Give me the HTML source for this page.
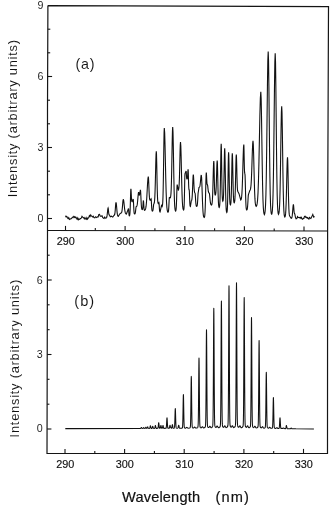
<!DOCTYPE html>
<html><head><meta charset="utf-8"><title>Spectra</title>
<style>html,body{margin:0;padding:0;background:#fff;width:333px;height:505px;overflow:hidden}svg{display:block}</style>
</head><body>
<svg width="333" height="505" viewBox="0 0 333 505">
<rect width="333" height="505" fill="#fff"/>
<g stroke="#141414" stroke-width="1.2" stroke-linecap="butt" fill="none">
<polyline points="47.9,5.6 328.5,6.6 327.6,230.7 327.5,453.5 47.0,453.5 47.5,230.5 47.5,110 47.9,5.6" fill="none"/>
<line x1="47.5" y1="230.5" x2="327.6" y2="231.0"/>
<line x1="47.5" y1="218.5" x2="52.0" y2="218.5" stroke-width="1.10"/>
<line x1="47.5" y1="194.8" x2="50.0" y2="194.8" stroke-width="1.10"/>
<line x1="47.5" y1="171.2" x2="50.0" y2="171.2" stroke-width="1.10"/>
<line x1="47.5" y1="147.5" x2="52.0" y2="147.5" stroke-width="1.10"/>
<line x1="47.5" y1="123.8" x2="50.0" y2="123.8" stroke-width="1.10"/>
<line x1="47.5" y1="100.2" x2="50.0" y2="100.2" stroke-width="1.10"/>
<line x1="47.6" y1="76.5" x2="52.1" y2="76.5" stroke-width="1.10"/>
<line x1="47.7" y1="52.8" x2="50.2" y2="52.8" stroke-width="1.10"/>
<line x1="47.8" y1="29.2" x2="50.3" y2="29.2" stroke-width="1.10"/>
<line x1="47.1" y1="429.0" x2="51.4" y2="429.0" stroke-width="1.10"/>
<line x1="47.1" y1="404.2" x2="49.4" y2="404.2" stroke-width="1.10"/>
<line x1="47.2" y1="379.3" x2="49.5" y2="379.3" stroke-width="1.10"/>
<line x1="47.2" y1="354.5" x2="51.5" y2="354.5" stroke-width="1.10"/>
<line x1="47.3" y1="329.7" x2="49.6" y2="329.7" stroke-width="1.10"/>
<line x1="47.3" y1="304.8" x2="49.6" y2="304.8" stroke-width="1.10"/>
<line x1="47.4" y1="280.0" x2="51.7" y2="280.0" stroke-width="1.10"/>
<line x1="47.4" y1="255.2" x2="49.7" y2="255.2" stroke-width="1.10"/>
<line x1="65.5" y1="230.5" x2="65.5" y2="225.9" stroke-width="1.10"/>
<line x1="65.0" y1="453.5" x2="65.0" y2="448.9" stroke-width="1.10"/>
<line x1="95.3" y1="230.6" x2="95.3" y2="228.1" stroke-width="1.10"/>
<line x1="94.8" y1="453.5" x2="94.8" y2="451.0" stroke-width="1.10"/>
<line x1="125.1" y1="230.6" x2="125.1" y2="226.0" stroke-width="1.10"/>
<line x1="124.6" y1="453.5" x2="124.6" y2="448.9" stroke-width="1.10"/>
<line x1="154.9" y1="230.7" x2="154.9" y2="228.2" stroke-width="1.10"/>
<line x1="154.4" y1="453.5" x2="154.4" y2="451.0" stroke-width="1.10"/>
<line x1="184.8" y1="230.7" x2="184.8" y2="226.1" stroke-width="1.10"/>
<line x1="184.2" y1="453.5" x2="184.2" y2="448.9" stroke-width="1.10"/>
<line x1="214.6" y1="230.8" x2="214.6" y2="228.3" stroke-width="1.10"/>
<line x1="214.1" y1="453.5" x2="214.1" y2="451.0" stroke-width="1.10"/>
<line x1="244.4" y1="230.9" x2="244.4" y2="226.3" stroke-width="1.10"/>
<line x1="243.9" y1="453.5" x2="243.9" y2="448.9" stroke-width="1.10"/>
<line x1="274.2" y1="230.9" x2="274.2" y2="228.4" stroke-width="1.10"/>
<line x1="273.7" y1="453.5" x2="273.7" y2="451.0" stroke-width="1.10"/>
<line x1="304.0" y1="231.0" x2="304.0" y2="226.4" stroke-width="1.10"/>
<line x1="303.5" y1="453.5" x2="303.5" y2="448.9" stroke-width="1.10"/>
</g>
<polyline points="65.40,215.80 66.07,216.87 66.73,216.32 67.40,217.60 68.08,218.51 68.75,217.58 69.42,219.39 70.10,219.00 70.80,219.00 71.50,218.30 72.40,217.71 73.30,216.50 73.95,217.49 74.60,216.70 75.20,217.65 75.80,217.17 76.40,218.10 77.08,219.32 77.75,217.92 78.42,219.66 79.10,219.00 79.80,219.38 80.50,218.50 81.25,218.15 82.00,216.30 82.80,217.36 83.60,217.60 84.27,218.81 84.93,217.63 85.60,219.00 86.22,219.44 86.85,217.73 87.47,219.09 88.10,218.10 88.75,217.64 89.40,215.67 90.05,216.41 90.70,214.90 91.35,216.06 92.00,216.20 92.63,216.99 93.27,216.23 93.90,217.60 94.80,217.78 95.70,216.70 96.60,217.60 97.50,216.90 98.17,216.98 98.83,214.43 99.50,214.40 100.30,216.24 101.10,216.20 102.00,215.80 102.65,217.48 103.30,218.00 104.00,218.41 104.70,217.10 105.35,218.16 106.00,218.00 106.21,217.94 106.42,217.78 106.63,217.44 106.84,216.78 107.05,215.67 107.26,214.05 107.47,212.07 107.68,210.07 107.89,208.56 108.10,208.00 108.23,208.39 108.36,209.45 108.49,210.85 108.62,212.24 108.75,213.37 108.88,214.15 109.01,214.61 109.14,214.85 109.27,214.96 109.40,215.00 110.30,216.70 111.40,216.20 112.80,217.10 114.10,215.30 114.29,215.22 114.48,215.02 114.67,214.57 114.86,213.71 115.05,212.27 115.24,210.17 115.43,207.59 115.62,204.99 115.81,203.03 116.00,202.30 116.24,203.09 116.48,205.22 116.72,208.04 116.96,210.83 117.20,213.11 117.44,214.68 117.68,215.61 117.92,216.09 118.16,216.31 118.40,216.40 119.60,214.00 121.00,213.00 121.23,212.92 121.46,212.70 121.69,212.23 121.92,211.33 122.15,209.80 122.38,207.59 122.61,204.87 122.84,202.14 123.07,200.07 123.30,199.30 123.61,200.13 123.92,202.34 124.23,205.28 124.54,208.20 124.85,210.57 125.16,212.20 125.47,213.18 125.78,213.68 126.09,213.91 126.40,214.00 128.50,208.50 128.59,208.91 128.68,210.01 128.77,211.47 128.86,212.92 128.95,214.10 129.04,214.91 129.13,215.39 129.22,215.64 129.31,215.75 129.40,215.80 129.55,215.63 129.70,215.21 129.85,214.29 130.00,212.50 130.15,209.50 130.30,205.14 130.45,199.79 130.60,194.39 130.75,190.32 130.90,188.80 131.02,189.53 131.14,191.47 131.26,194.05 131.38,196.61 131.50,198.69 131.62,200.12 131.74,200.98 131.86,201.42 131.98,201.62 132.10,201.70 133.20,199.00 133.34,199.85 133.48,202.11 133.62,205.10 133.76,208.08 133.90,210.50 134.04,212.17 134.18,213.16 134.32,213.67 134.46,213.91 134.60,214.00 134.76,213.95 134.92,213.84 135.08,213.59 135.24,213.11 135.40,212.30 135.56,211.12 135.72,209.67 135.88,208.21 136.04,207.11 136.20,206.70 136.44,206.61 136.68,206.39 136.92,205.89 137.16,204.93 137.40,203.32 137.64,200.98 137.88,198.10 138.12,195.20 138.36,193.02 138.60,192.20 139.40,195.50 140.40,189.80 140.58,190.92 140.76,193.90 140.94,197.86 141.12,201.78 141.30,204.98 141.48,207.18 141.66,208.49 141.84,209.17 142.02,209.48 142.20,209.60 142.32,209.54 142.44,209.40 142.56,209.09 142.68,208.49 142.80,207.48 142.92,206.01 143.04,204.20 143.16,202.38 143.28,201.01 143.40,200.50 143.52,201.05 143.64,202.53 143.76,204.49 143.88,206.43 144.00,208.01 144.12,209.10 144.24,209.75 144.36,210.09 144.48,210.24 144.60,210.30 144.97,210.09 145.34,209.57 145.71,208.41 146.08,206.18 146.45,202.44 146.82,197.00 147.19,190.31 147.56,183.58 147.93,178.50 148.30,176.60 148.49,177.94 148.68,181.51 148.87,186.24 149.06,190.94 149.25,194.77 149.44,197.41 149.63,198.97 149.82,199.79 150.01,200.15 150.20,200.30 151.10,199.00 151.23,199.68 151.36,201.51 151.49,203.92 151.62,206.32 151.75,208.28 151.88,209.62 152.01,210.42 152.14,210.84 152.27,211.03 152.40,211.10 152.54,211.06 152.68,210.94 152.82,210.70 152.96,210.22 153.10,209.42 153.24,208.26 153.38,206.83 153.52,205.39 153.66,204.31 153.80,203.90 154.05,203.57 154.30,202.76 154.55,200.96 154.80,197.48 155.05,191.62 155.30,183.14 155.55,172.70 155.80,162.19 156.05,154.26 156.30,151.30 156.50,154.24 156.70,162.11 156.90,172.54 157.10,182.89 157.30,191.32 157.50,197.13 157.70,200.58 157.90,202.37 158.10,203.18 158.30,203.50 158.90,202.60 159.02,203.13 159.14,204.55 159.26,206.42 159.38,208.29 159.50,209.81 159.62,210.85 159.74,211.47 159.86,211.80 159.98,211.94 160.10,212.00 161.50,205.50 162.10,206.50 162.32,206.01 162.54,204.80 162.76,202.11 162.98,196.93 163.20,188.20 163.42,175.55 163.64,160.00 163.86,144.33 164.08,132.52 164.30,128.10 164.67,132.84 165.04,145.51 165.41,162.32 165.78,179.00 166.15,192.57 166.52,201.93 166.89,207.49 167.26,210.37 167.63,211.68 168.00,212.20 168.14,212.11 168.28,211.88 168.42,211.38 168.56,210.40 168.70,208.77 168.84,206.40 168.98,203.48 169.12,200.54 169.26,198.33 169.40,197.50 170.20,197.80 170.45,197.36 170.70,196.26 170.95,193.84 171.20,189.17 171.45,181.30 171.70,169.89 171.95,155.86 172.20,141.74 172.45,131.08 172.70,127.10 172.99,131.83 173.28,144.47 173.57,161.24 173.86,177.88 174.15,191.42 174.44,200.75 174.73,206.30 175.02,209.18 175.31,210.48 175.60,211.00 175.76,210.84 175.92,210.42 176.08,209.52 176.24,207.76 176.40,204.82 176.56,200.54 176.72,195.28 176.88,189.99 177.04,185.99 177.20,184.50 178.30,190.00 178.52,189.70 178.74,188.96 178.96,187.31 179.18,184.14 179.40,178.80 179.62,171.05 179.84,161.53 180.06,151.94 180.28,144.70 180.50,142.00 180.81,145.83 181.12,156.08 181.43,169.67 181.74,183.16 182.05,194.13 182.36,201.70 182.67,206.19 182.98,208.52 183.29,209.58 183.60,210.00 183.74,209.77 183.88,209.21 184.02,207.96 184.16,205.55 184.30,201.51 184.44,195.63 184.58,188.41 184.72,181.14 184.86,175.65 185.00,173.60 186.10,171.00 186.19,171.45 186.28,172.66 186.37,174.25 186.46,175.84 186.55,177.13 186.64,178.02 186.73,178.55 186.82,178.83 186.91,178.95 187.00,179.00 187.11,178.94 187.22,178.79 187.33,178.46 187.44,177.82 187.55,176.74 187.66,175.17 187.77,173.25 187.88,171.31 187.99,169.85 188.10,169.30 188.21,170.47 188.32,173.59 188.43,177.72 188.54,181.83 188.65,185.17 188.76,187.47 188.87,188.84 188.98,189.55 189.09,189.87 189.20,190.00 189.32,190.93 189.44,193.42 189.56,196.71 189.68,199.99 189.80,202.65 189.92,204.49 190.04,205.58 190.16,206.14 190.28,206.40 190.40,206.50 191.30,200.80 191.50,200.64 191.70,200.23 191.90,199.33 192.10,197.59 192.30,194.66 192.50,190.42 192.70,185.20 192.90,179.95 193.10,175.98 193.30,174.50 193.47,175.54 193.64,178.33 193.81,182.03 193.98,185.70 194.15,188.68 194.32,190.74 194.49,191.96 194.66,192.60 194.83,192.89 195.00,193.00 195.17,193.75 195.34,195.77 195.51,198.45 195.68,201.11 195.85,203.27 196.02,204.76 196.19,205.65 196.36,206.11 196.53,206.32 196.70,206.40 196.86,206.31 197.02,206.09 197.18,205.59 197.34,204.64 197.50,203.04 197.66,200.72 197.82,197.86 197.98,194.98 198.14,192.81 198.30,192.00 199.00,187.40 199.23,187.32 199.46,187.13 199.69,186.71 199.92,185.89 200.15,184.51 200.38,182.51 200.61,180.05 200.84,177.57 201.07,175.70 201.30,175.00 201.59,177.39 201.88,183.80 202.17,192.29 202.46,200.72 202.75,207.58 203.04,212.31 203.33,215.12 203.62,216.58 203.91,217.24 204.20,217.50 204.41,217.22 204.62,216.52 204.83,214.98 205.04,212.00 205.25,207.00 205.46,199.74 205.67,190.81 205.88,181.82 206.09,175.04 206.30,172.50 206.41,173.19 206.52,175.03 206.63,177.46 206.74,179.88 206.85,181.85 206.96,183.21 207.07,184.02 207.18,184.43 207.29,184.62 207.40,184.70 207.58,185.17 207.76,186.42 207.94,188.08 208.12,189.72 208.30,191.06 208.48,191.99 208.66,192.54 208.84,192.82 209.02,192.95 209.20,193.00 209.43,193.68 209.66,195.48 209.89,197.88 210.12,200.26 210.35,202.20 210.58,203.53 210.81,204.33 211.04,204.74 211.27,204.93 211.50,205.00 211.73,204.73 211.96,204.04 212.19,202.54 212.42,199.63 212.65,194.73 212.88,187.63 213.11,178.90 213.34,170.11 213.57,163.48 213.80,161.00 213.94,162.92 214.08,168.04 214.22,174.83 214.36,181.58 214.50,187.07 214.64,190.85 214.78,193.10 214.92,194.26 215.06,194.79 215.20,195.00 215.40,194.79 215.60,194.25 215.80,193.07 216.00,190.79 216.20,186.95 216.40,181.38 216.60,174.54 216.80,167.64 217.00,162.44 217.20,160.50 217.40,163.15 217.60,170.23 217.80,179.62 218.00,188.95 218.20,196.53 218.40,201.76 218.60,204.87 218.80,206.48 219.00,207.21 219.20,207.50 219.40,207.11 219.60,206.12 219.80,203.94 220.00,199.73 220.20,192.66 220.40,182.39 220.60,169.78 220.80,157.07 221.00,147.48 221.20,143.90 221.36,147.13 221.52,155.76 221.68,167.21 221.84,178.58 222.00,187.83 222.16,194.20 222.32,197.99 222.48,199.96 222.64,200.85 222.80,201.20 222.99,200.87 223.18,200.05 223.37,198.24 223.56,194.75 223.75,188.88 223.94,180.36 224.13,169.88 224.32,159.33 224.51,151.37 224.70,148.40 224.91,152.01 225.12,161.67 225.33,174.48 225.54,187.20 225.75,197.54 225.96,204.67 226.17,208.91 226.38,211.11 226.59,212.10 226.80,212.50 226.98,212.13 227.16,211.19 227.34,209.14 227.52,205.16 227.70,198.47 227.88,188.78 228.06,176.85 228.24,164.84 228.42,155.79 228.60,152.40 228.78,155.35 228.96,163.25 229.14,173.72 229.32,184.12 229.50,192.57 229.68,198.40 229.86,201.87 230.04,203.66 230.22,204.48 230.40,204.80 230.59,204.48 230.78,203.68 230.97,201.92 231.16,198.51 231.35,192.78 231.54,184.47 231.73,174.25 231.92,163.96 232.11,156.20 232.30,153.30 232.49,156.09 232.68,163.55 232.87,173.44 233.06,183.26 233.25,191.25 233.44,196.76 233.63,200.03 233.82,201.72 234.01,202.49 234.20,202.80 234.41,202.50 234.62,201.75 234.83,200.10 235.04,196.90 235.25,191.53 235.46,183.73 235.67,174.15 235.88,164.50 236.09,157.22 236.30,154.50 236.47,156.60 236.64,162.22 236.81,169.68 236.98,177.08 237.15,183.09 237.32,187.24 237.49,189.71 237.66,190.99 237.83,191.57 238.00,191.80 239.00,193.70 240.70,200.00 241.01,199.66 241.32,198.79 241.63,196.89 241.94,193.22 242.25,187.05 242.56,178.09 242.87,167.08 243.18,155.99 243.49,147.63 243.80,144.50 243.91,146.14 244.02,150.53 244.13,156.34 244.24,162.11 244.35,166.81 244.46,170.05 244.57,171.97 244.68,172.97 244.79,173.42 244.90,173.60 245.08,175.65 245.26,181.14 245.44,188.41 245.62,195.63 245.80,201.51 245.98,205.55 246.16,207.96 246.34,209.21 246.52,209.77 246.70,210.00 246.88,209.90 247.06,209.66 247.24,209.12 247.42,208.08 247.60,206.34 247.78,203.80 247.96,200.69 248.14,197.55 248.32,195.18 248.50,194.30 249.80,190.50 250.12,190.19 250.44,189.42 250.76,187.72 251.08,184.44 251.40,178.92 251.72,170.92 252.04,161.08 252.36,151.17 252.68,143.69 253.00,140.90 253.32,144.59 253.64,154.46 253.96,167.55 254.28,180.54 254.60,191.11 254.92,198.40 255.24,202.73 255.56,204.98 255.88,205.99 256.20,206.40 256.66,205.69 257.12,203.91 257.58,199.99 258.04,192.41 258.50,179.65 258.96,161.16 259.42,138.43 259.88,115.53 260.34,98.26 260.80,91.80 261.16,98.71 261.52,117.21 261.88,141.72 262.24,166.07 262.60,185.86 262.96,199.52 263.32,207.63 263.68,211.83 264.04,213.74 264.40,214.50 264.78,213.49 265.16,210.96 265.54,205.38 265.92,194.59 266.30,176.46 266.68,150.16 267.06,117.82 267.44,85.25 267.82,60.68 268.20,51.50 268.54,60.68 268.88,85.25 269.22,117.82 269.56,150.16 269.90,176.46 270.24,194.59 270.58,205.38 270.92,210.96 271.26,213.49 271.60,214.50 271.96,213.50 272.32,211.00 272.68,205.48 273.04,194.81 273.40,176.88 273.76,150.87 274.12,118.89 274.48,86.68 274.84,62.38 275.20,53.30 275.53,62.37 275.86,86.64 276.19,118.80 276.52,150.75 276.85,176.73 277.18,194.64 277.51,205.29 277.84,210.80 278.17,213.30 278.50,214.30 278.82,213.63 279.14,211.95 279.46,208.25 279.78,201.10 280.10,189.07 280.42,171.63 280.74,150.18 281.06,128.58 281.38,112.29 281.70,106.20 282.01,112.44 282.32,129.14 282.63,151.28 282.94,173.26 283.25,191.14 283.56,203.47 283.87,210.80 284.18,214.59 284.49,216.31 284.80,217.00 285.07,216.63 285.34,215.70 285.61,213.66 285.88,209.71 286.15,203.07 286.42,193.43 286.69,181.59 286.96,169.66 287.23,160.66 287.50,157.30 287.73,160.62 287.96,169.50 288.19,181.26 288.42,192.95 288.65,202.45 288.88,209.01 289.11,212.90 289.34,214.92 289.57,215.84 289.80,216.20 291.20,218.40 291.42,218.31 291.64,218.10 291.86,217.62 292.08,216.70 292.30,215.16 292.52,212.91 292.74,210.16 292.96,207.38 293.18,205.28 293.40,204.50 293.54,205.03 293.68,206.45 293.82,208.32 293.96,210.19 294.10,211.71 294.24,212.75 294.38,213.37 294.52,213.70 294.66,213.84 294.80,213.90 295.45,217.35 296.10,218.90 296.80,218.67 297.50,216.60 298.15,217.42 298.80,217.50 299.50,217.80 300.20,217.30 300.80,218.29 301.40,217.39 302.00,218.90 302.65,219.26 303.30,218.40 303.90,218.41 304.50,216.42 305.10,216.20 305.80,217.31 306.50,217.10 307.10,218.17 307.70,217.55 308.30,218.60 308.90,219.11 309.50,217.49 310.10,218.00 310.85,218.48 311.60,217.10 312.80,214.40 313.70,217.10 314.60,216.60" fill="none" stroke="#111" stroke-width="1.1" stroke-linejoin="miter" stroke-miterlimit="3"/>
<polyline points="65.30,428.60 140.60,428.43 140.90,428.18 141.30,427.55 141.40,427.50 141.60,427.67 142.00,428.30 142.90,428.43 143.20,428.21 143.60,427.64 143.70,427.59 143.90,427.75 144.30,428.31 145.00,428.43 145.30,428.23 145.80,427.25 145.90,427.19 146.00,427.25 146.40,428.06 146.60,428.32 146.90,428.35 147.10,428.14 147.30,427.67 147.50,427.08 147.60,426.87 147.70,426.79 147.80,426.87 148.20,427.95 148.40,428.29 149.40,428.41 149.60,428.30 149.70,428.16 149.80,427.94 149.90,427.61 150.20,426.18 150.30,425.83 150.40,425.70 150.50,425.83 150.60,426.17 150.90,427.60 151.00,427.94 151.10,428.16 151.30,428.36 151.80,428.38 152.00,428.24 152.10,428.07 152.20,427.82 152.50,426.75 152.60,426.49 152.70,426.40 152.80,426.49 152.90,426.75 153.20,427.82 153.30,428.07 153.50,428.34 154.40,428.40 154.60,428.29 154.70,428.14 154.80,427.90 154.90,427.54 155.20,426.01 155.30,425.64 155.40,425.50 155.50,425.63 155.60,426.01 155.90,427.54 156.00,427.90 156.10,428.14 156.30,428.36 157.70,428.33 157.90,428.10 158.00,427.82 158.10,427.35 158.20,426.66 158.30,425.74 158.50,423.70 158.60,422.97 158.70,422.70 158.80,422.97 158.90,423.69 159.10,425.73 159.20,426.65 159.30,427.34 159.40,427.80 159.50,428.08 159.70,428.30 160.00,428.30 160.20,428.10 160.30,427.86 160.40,427.51 160.70,425.99 160.80,425.61 160.90,425.48 161.00,425.62 161.10,425.98 161.40,427.51 161.50,427.87 161.60,428.11 161.80,428.32 162.10,428.33 162.30,428.12 162.40,427.88 162.50,427.52 162.80,426.00 162.90,425.63 163.00,425.49 163.10,425.63 163.20,426.00 163.50,427.54 163.60,427.90 163.70,428.14 163.90,428.36 165.90,428.29 166.10,428.07 166.20,427.78 166.30,427.26 166.40,426.39 166.50,425.09 166.60,423.38 166.70,421.43 166.80,419.58 166.90,418.23 167.00,417.74 167.10,418.23 167.20,419.58 167.30,421.44 167.40,423.38 167.50,425.09 167.60,426.39 167.70,427.26 167.80,427.78 167.90,428.06 168.10,428.28 169.00,428.35 169.20,428.22 169.30,428.07 169.40,427.80 169.50,427.44 169.80,425.91 169.90,425.50 170.00,425.31 170.10,425.36 170.20,425.63 170.50,426.92 170.60,427.26 170.80,427.71 171.30,428.18 171.50,428.20 171.60,428.13 171.70,427.97 171.80,427.68 171.90,427.23 172.00,426.64 172.20,425.30 172.30,424.83 172.40,424.65 172.50,424.82 172.60,425.29 172.80,426.62 172.90,427.21 173.00,427.66 173.10,427.96 173.20,428.14 174.00,428.19 174.20,428.07 174.30,427.94 174.40,427.67 174.50,427.14 174.60,426.18 174.70,424.57 174.80,422.17 174.90,419.01 175.00,415.40 175.10,411.96 175.20,409.46 175.30,408.55 175.40,409.46 175.50,411.97 175.60,415.40 175.70,419.01 175.80,422.18 175.90,424.58 176.00,426.19 176.10,427.16 176.20,427.69 176.30,427.96 177.30,428.33 177.80,428.09 178.00,427.77 178.10,427.49 178.20,427.12 178.50,425.67 178.60,425.34 178.70,425.21 178.80,425.34 178.90,425.68 179.20,427.14 179.30,427.52 179.40,427.80 179.60,428.13 181.80,428.17 182.20,427.94 182.30,427.81 182.40,427.57 182.50,427.11 182.60,426.21 182.70,424.56 182.80,421.82 182.90,417.72 183.00,412.33 183.10,406.17 183.20,400.31 183.30,396.05 183.40,394.48 183.50,396.05 183.60,400.31 183.70,406.18 183.80,412.33 183.90,417.73 184.00,421.82 184.10,424.56 184.20,426.21 184.30,427.11 184.40,427.58 184.50,427.82 185.30,428.26 186.00,427.99 186.60,427.43 186.90,427.39 187.90,428.22 189.60,428.03 190.00,427.74 190.20,427.42 190.30,427.06 190.40,426.35 190.50,424.97 190.60,422.44 190.70,418.25 190.80,411.98 190.90,403.72 191.00,394.30 191.10,385.32 191.20,378.80 191.30,376.40 191.40,378.80 191.50,385.33 191.60,394.30 191.70,403.72 191.80,411.98 191.90,418.25 192.00,422.45 192.10,424.97 192.20,426.35 192.30,427.06 192.40,427.42 192.60,427.75 193.00,428.03 193.70,427.95 194.50,427.13 194.80,427.09 195.70,428.03 197.00,427.96 197.60,427.58 197.80,427.29 197.90,427.02 198.00,426.53 198.10,425.57 198.20,423.70 198.30,420.30 198.40,414.63 198.50,406.16 198.60,395.01 198.70,382.29 198.80,370.17 198.90,361.35 199.00,358.12 199.10,361.35 199.20,370.17 199.30,382.29 199.40,395.01 199.50,406.17 199.60,414.63 199.70,420.30 199.80,423.71 199.90,425.57 200.00,426.54 200.10,427.02 200.20,427.29 200.50,427.68 200.60,427.65 201.10,427.85 201.50,427.68 202.20,426.80 202.40,426.72 202.70,426.92 203.30,427.74 203.80,427.96 204.70,427.55 205.10,427.18 205.30,426.77 205.40,426.39 205.50,425.71 205.60,424.36 205.70,421.74 205.80,416.96 205.90,409.01 206.00,397.13 206.10,381.49 206.20,363.64 206.30,346.63 206.40,334.27 206.50,329.73 206.60,334.27 206.70,346.63 206.80,363.64 206.90,381.49 207.00,397.14 207.10,409.01 207.20,416.97 207.30,421.74 207.40,424.36 207.50,425.71 207.60,426.40 207.70,426.77 207.80,427.01 207.90,427.04 208.40,427.52 208.80,427.55 209.10,427.27 209.70,426.33 209.90,426.22 210.10,426.34 210.80,427.47 211.20,427.71 211.90,427.40 212.30,426.93 212.60,426.38 212.70,425.92 212.80,425.08 212.90,423.44 213.00,420.26 213.10,414.44 213.20,404.76 213.30,390.30 213.40,371.25 213.50,349.52 213.60,328.82 213.70,313.77 213.80,308.25 213.90,313.77 214.00,328.82 214.10,349.52 214.20,371.25 214.30,390.30 214.40,404.76 214.50,414.44 214.60,420.26 214.70,423.45 214.80,425.09 214.90,425.92 215.00,426.38 215.20,426.88 215.40,427.19 215.50,427.17 215.90,427.42 216.20,427.33 216.50,426.93 216.90,426.18 217.10,425.96 217.30,425.97 217.50,426.23 218.10,427.42 218.40,427.72 219.10,427.63 219.70,427.12 219.80,426.99 219.90,426.97 220.10,426.56 220.20,426.25 220.30,425.77 220.40,424.88 220.50,423.14 220.60,419.76 220.70,413.59 220.80,403.32 220.90,387.99 221.00,367.79 221.10,344.74 221.20,322.78 221.30,306.82 221.40,300.96 221.50,306.82 221.60,322.78 221.70,344.74 221.80,367.79 221.90,387.99 222.00,403.32 222.10,413.60 222.20,419.76 222.30,423.15 222.40,424.89 222.50,425.77 222.60,426.26 222.70,426.56 223.00,427.12 223.10,427.08 223.50,427.36 223.80,427.26 224.10,426.84 224.50,426.06 224.70,425.83 224.90,425.84 225.10,426.11 225.70,427.35 226.00,427.65 226.60,427.59 227.30,426.96 227.40,426.81 227.50,426.78 227.70,426.32 227.80,425.98 227.90,425.44 228.00,424.45 228.10,422.50 228.20,418.72 228.30,411.81 228.40,400.32 228.50,383.16 228.60,360.55 228.70,334.76 228.80,310.20 228.90,292.33 229.00,285.77 229.10,292.33 229.20,310.20 229.30,334.77 229.40,360.56 229.50,383.16 229.60,400.32 229.70,411.82 229.80,418.72 229.90,422.50 230.00,424.45 230.10,425.44 230.20,425.98 230.30,426.32 230.50,426.78 230.60,426.78 231.00,427.20 231.30,427.22 231.60,426.91 232.10,425.94 232.30,425.70 232.50,425.72 232.70,426.00 233.20,427.10 233.50,427.51 233.90,427.62 234.60,427.17 235.00,426.59 235.10,426.54 235.20,426.28 235.30,425.94 235.40,425.38 235.50,424.37 235.60,422.38 235.70,418.51 235.80,411.46 235.90,399.72 236.00,382.19 236.10,359.09 236.20,332.74 236.30,307.64 236.40,289.39 236.50,282.69 236.60,289.39 236.70,307.64 236.80,332.74 236.90,359.09 237.00,382.19 237.10,399.72 237.20,411.46 237.30,418.52 237.40,422.38 237.50,424.37 237.60,425.39 237.70,425.94 237.80,426.29 238.10,426.93 238.20,427.07 238.30,427.05 238.60,427.26 238.90,427.19 239.20,426.78 239.60,425.99 239.80,425.76 240.00,425.79 240.20,426.08 240.80,427.38 241.10,427.71 241.80,427.68 242.50,427.10 242.60,427.12 242.90,426.54 243.00,426.23 243.10,425.73 243.20,424.82 243.30,423.04 243.40,419.57 243.50,413.23 243.60,402.69 243.70,386.95 243.80,366.21 243.90,342.55 244.00,320.01 244.10,303.62 244.20,297.60 244.30,303.62 244.40,320.01 244.50,342.55 244.60,366.21 244.70,386.95 244.80,402.69 244.90,413.24 245.00,419.57 245.10,423.04 245.20,424.83 245.30,425.74 245.40,426.23 245.50,426.55 246.00,427.22 246.30,427.40 246.60,427.30 246.90,426.88 247.30,426.08 247.50,425.85 247.70,425.87 247.90,426.14 248.50,427.41 248.80,427.71 249.40,427.65 250.00,427.09 250.30,426.62 250.40,426.20 250.50,425.43 250.60,423.92 250.70,420.97 250.80,415.61 250.90,406.67 251.00,393.33 251.10,375.76 251.20,355.70 251.30,336.60 251.40,322.71 251.50,317.62 251.60,322.71 251.70,336.60 251.80,355.71 251.90,375.76 252.00,393.33 252.10,406.67 252.20,415.61 252.30,420.98 252.40,423.92 252.50,425.43 252.60,426.20 252.70,426.63 252.90,427.08 253.10,427.37 253.60,427.63 253.90,427.54 254.70,426.33 254.90,426.23 255.10,426.37 255.80,427.68 256.10,427.98 257.10,427.84 257.50,427.55 257.60,427.56 257.80,427.28 257.90,427.07 258.00,426.73 258.10,426.12 258.20,424.92 258.30,422.58 258.40,418.32 258.50,411.23 258.60,400.64 258.70,386.69 258.80,370.77 258.90,355.60 259.00,344.58 259.10,340.53 259.20,344.58 259.30,355.60 259.40,370.77 259.50,386.69 259.60,400.64 259.70,411.23 259.80,418.33 259.90,422.59 260.00,424.92 260.10,426.12 260.20,426.74 260.30,427.07 260.80,427.68 261.30,427.86 261.60,427.69 262.30,426.73 262.50,426.64 262.70,426.76 263.40,427.87 263.80,428.16 264.80,427.89 265.20,427.46 265.30,427.07 265.40,426.30 265.50,424.81 265.60,422.08 265.70,417.53 265.80,410.75 265.90,401.81 266.00,391.61 266.10,381.90 266.20,374.84 266.30,372.24 266.40,374.84 266.50,381.90 266.60,391.61 266.70,401.81 266.80,410.75 266.90,417.53 267.00,422.08 267.10,424.81 267.20,426.31 267.30,427.08 267.40,427.47 267.70,427.88 268.40,428.18 268.80,428.03 269.50,427.27 269.70,427.20 270.00,427.39 270.70,428.24 271.90,428.27 272.20,428.10 272.40,427.83 272.50,427.40 272.60,426.58 272.70,425.06 272.80,422.55 272.90,418.79 273.00,413.84 273.10,408.19 273.20,402.81 273.30,398.89 273.40,397.46 273.50,398.89 273.60,402.81 273.70,408.19 273.80,413.84 273.90,418.79 274.00,422.55 274.10,425.05 274.20,426.57 274.30,427.39 274.40,427.82 274.50,428.04 275.40,428.44 276.00,428.23 276.70,427.66 277.00,427.71 277.90,428.49 278.90,428.48 279.10,428.25 279.20,427.97 279.30,427.44 279.40,426.55 279.50,425.27 279.60,423.53 279.70,421.54 279.80,419.65 279.90,418.27 280.00,417.77 280.10,418.27 280.20,419.65 280.30,421.54 280.40,423.53 280.50,425.26 280.60,426.58 280.70,427.47 280.80,428.00 280.90,428.29 281.10,428.52 282.40,428.56 283.30,428.01 285.10,428.70 285.50,428.62 285.70,428.38 285.80,428.11 285.90,427.72 286.00,427.21 286.20,426.04 286.30,425.63 286.40,425.48 286.50,425.63 286.60,426.04 286.90,427.73 287.00,428.13 287.10,428.39 287.30,428.64 290.50,428.69 291.10,428.02 291.30,428.02 291.80,428.63 295.90,428.80 313.90,428.90" fill="none" stroke="#111" stroke-width="1.05" stroke-linejoin="round"/>
<g font-family="'Liberation Sans', Arial, sans-serif" fill="#111" stroke="#fff" stroke-width="0.06">
<text x="43.4" y="9.1" font-size="10.7" text-anchor="end">9</text>
<text x="43.4" y="79.9" font-size="10.7" text-anchor="end">6</text>
<text x="43.4" y="151.2" font-size="10.7" text-anchor="end">3</text>
<text x="43.4" y="222.2" font-size="10.7" text-anchor="end">0</text>
<text x="42.7" y="283.6" font-size="10.7" text-anchor="end">6</text>
<text x="42.7" y="357.5" font-size="10.7" text-anchor="end">3</text>
<text x="42.7" y="431.9" font-size="10.7" text-anchor="end">0</text>
<text x="65.7" y="244.8" font-size="11.0" text-anchor="middle" textLength="18.1" lengthAdjust="spacingAndGlyphs" stroke="#111" stroke-width="0.15">290</text>
<text x="65.2" y="468.4" font-size="11.0" text-anchor="middle" textLength="18.1" lengthAdjust="spacingAndGlyphs" stroke="#111" stroke-width="0.15">290</text>
<text x="125.3" y="244.8" font-size="11.0" text-anchor="middle" textLength="18.1" lengthAdjust="spacingAndGlyphs" stroke="#111" stroke-width="0.15">300</text>
<text x="124.8" y="468.4" font-size="11.0" text-anchor="middle" textLength="18.1" lengthAdjust="spacingAndGlyphs" stroke="#111" stroke-width="0.15">300</text>
<text x="184.9" y="244.8" font-size="11.0" text-anchor="middle" textLength="18.1" lengthAdjust="spacingAndGlyphs" stroke="#111" stroke-width="0.15">310</text>
<text x="184.4" y="468.4" font-size="11.0" text-anchor="middle" textLength="18.1" lengthAdjust="spacingAndGlyphs" stroke="#111" stroke-width="0.15">310</text>
<text x="244.6" y="244.8" font-size="11.0" text-anchor="middle" textLength="18.1" lengthAdjust="spacingAndGlyphs" stroke="#111" stroke-width="0.15">320</text>
<text x="244.1" y="468.4" font-size="11.0" text-anchor="middle" textLength="18.1" lengthAdjust="spacingAndGlyphs" stroke="#111" stroke-width="0.15">320</text>
<text x="304.2" y="244.8" font-size="11.0" text-anchor="middle" textLength="18.1" lengthAdjust="spacingAndGlyphs" stroke="#111" stroke-width="0.15">330</text>
<text x="303.7" y="468.4" font-size="11.0" text-anchor="middle" textLength="18.1" lengthAdjust="spacingAndGlyphs" stroke="#111" stroke-width="0.15">330</text>
<text x="75.5" y="68.9" font-size="14.3" text-anchor="start" textLength="19.1" lengthAdjust="spacing">(a)</text>
<text x="74.2" y="306.3" font-size="14.6" text-anchor="start" textLength="20.0" lengthAdjust="spacing">(b)</text>
<text x="122.0" y="502.0" font-size="14.6" textLength="78.0" lengthAdjust="spacing" stroke="#111" stroke-width="0.2">Wavelength</text>
<text x="215.4" y="502.0" font-size="14.6" textLength="33.4" lengthAdjust="spacing" stroke="#111" stroke-width="0.2">(nm)</text>
<text transform="translate(17.0,197.3) rotate(-90)" font-size="12.9" textLength="157.3" lengthAdjust="spacing">Intensity (arbitrary units)</text>
<text transform="translate(19.3,437.4) rotate(-90)" font-size="12.9" textLength="157.6" lengthAdjust="spacing">Intensity (arbitrary units)</text>
</g>
</svg>
</body></html>
